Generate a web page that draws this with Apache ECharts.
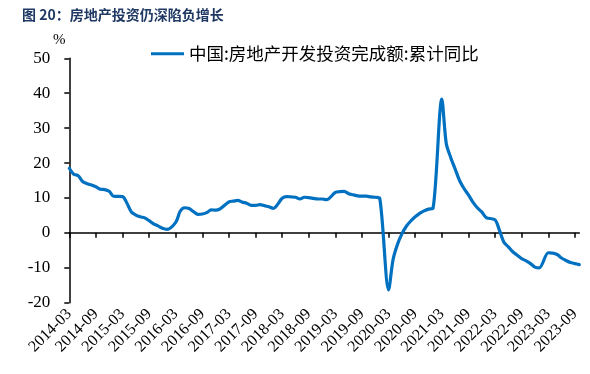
<!DOCTYPE html>
<html>
<head>
<meta charset="utf-8">
<script src="https://cdn.jsdelivr.net/npm/echarts@6/dist/echarts.min.js"></script>
<style>
html,body{margin:0;padding:0;background:#fff;}
#c{width:590px;height:374px;}
</style>
</head>
<body>
<div id="c"></div>
<script>
// Category positions (month-end data plotted at the following month's tick)
const startYear = 2014, startMonth = 3, nMonths = 116;
const categories = [];
for (let i = 0; i < nMonths; i++) {
  const m = startMonth - 1 + i;
  const y = startYear + Math.floor(m / 12);
  const mm = (m % 12) + 1;
  categories.push(y + '-' + (mm < 10 ? '0' + mm : mm));
}
const seriesName = '中国:房地产开发投资完成额:累计同比';
const values = [
  18.5, 16.8, 16.4, 14.7, 14.1, 13.7, 13.2, 12.5, 12.4, 11.9, 10.5, null,
  10.4, 8.5, 6.0, 5.1, 4.6, 4.3, 3.5, 2.6, 2.0, 1.3, 1.0, null,
  3.0, 6.2, 7.2, 7.0, 6.1, 5.3, 5.4, 5.8, 6.6, 6.5, 6.9, null,
  8.9, 9.1, 9.3, 8.8, 8.5, 7.9, 7.9, 8.1, 7.8, 7.5, 7.0, null,
  9.9, 10.4, 10.3, 10.2, 9.7, 10.2, 10.1, 9.9, 9.7, 9.7, 9.5, null,
  11.6, 11.8, 11.9, 11.2, 10.9, 10.6, 10.5, 10.5, 10.3, 10.2, 9.9, null,
  -16.3, -7.7, -3.3, -0.3, 1.9, 3.4, 4.6, 5.6, 6.3, 6.8, 7.0, null,
  38.3, 25.6, 21.6, 18.3, 15.0, 12.7, 10.9, 8.8, 7.2, 6.0, 4.4, null,
  3.7, 0.7, -2.7, -4.0, -5.4, -6.4, -7.4, -8.0, -8.8, -9.8, -10.0, null,
  -5.7, -5.8, -6.2, -7.2, -7.9, -8.5, -8.8, -9.1
];
const yMin = -20, yMax = 50, yStep = 10;
const titleText = '图 20：房地产投资仍深陷负增长';
const unitText = '%';

const serif = 'Liberation Serif';
const cjk = 'Noto Sans CJK SC';

const chart = echarts.init(document.getElementById('c'), null, {renderer: 'canvas'});
chart.setOption({
  animation: false,
  backgroundColor: '#fff',
  graphic: [
    {type: 'text', left: 22, top: 8, style: {text: titleText, fontFamily: cjk, fontWeight: 'bold', fontSize: 14, fill: '#1f3864'}},
    {type: 'text', left: 53, top: 33, style: {text: unitText, fontFamily: serif, fontSize: 15, fill: '#000'}}
  ],
  legend: {
    left: 146, top: 40,
    icon: 'rect', itemWidth: 33, itemHeight: 3, itemGap: 10,
    textStyle: {fontFamily: cjk, fontSize: 17.5, color: '#000'},
    data: [seriesName]
  },
  grid: {left: 69.3, right: 10.7, top: 58.3, bottom: 71.3, containLabel: false},
  xAxis: [
    {
      type: 'category', data: categories, boundaryGap: false, position: 'top',
      axisLine: {onZero: true, lineStyle: {color: '#000', width: 1.5}},
      axisTick: {show: true, inside: true, interval: 5, length: 5, lineStyle: {color: '#000', width: 1.5}},
      axisLabel: {show: false}, splitLine: {show: false}
    },
    {
      type: 'category', data: categories, boundaryGap: false, position: 'bottom',
      axisLine: {show: false, onZero: false}, axisTick: {show: false},
      axisLabel: {show: true, interval: 5, rotate: 45, margin: 9, fontFamily: serif, fontSize: 16, color: '#000'},
      splitLine: {show: false}
    }
  ],
  yAxis: {
    type: 'value', min: yMin, max: yMax, interval: yStep,
    axisLine: {show: true, lineStyle: {color: '#000', width: 1.5}},
    axisTick: {show: true, length: 5, lineStyle: {color: '#000', width: 1.5}},
    axisLabel: {margin: 19, fontFamily: serif, fontSize: 17, color: '#000'},
    splitLine: {show: false}
  },
  series: [{
    name: seriesName, type: 'line', xAxisIndex: 0, data: values,
    connectNulls: true, showSymbol: false, symbol: 'none', smooth: 0.3,
    lineStyle: {color: '#0070C0', width: 3.2, join: 'round', cap: 'round'},
    itemStyle: {color: '#0070C0'}
  }]
});
</script>
</body>
</html>
